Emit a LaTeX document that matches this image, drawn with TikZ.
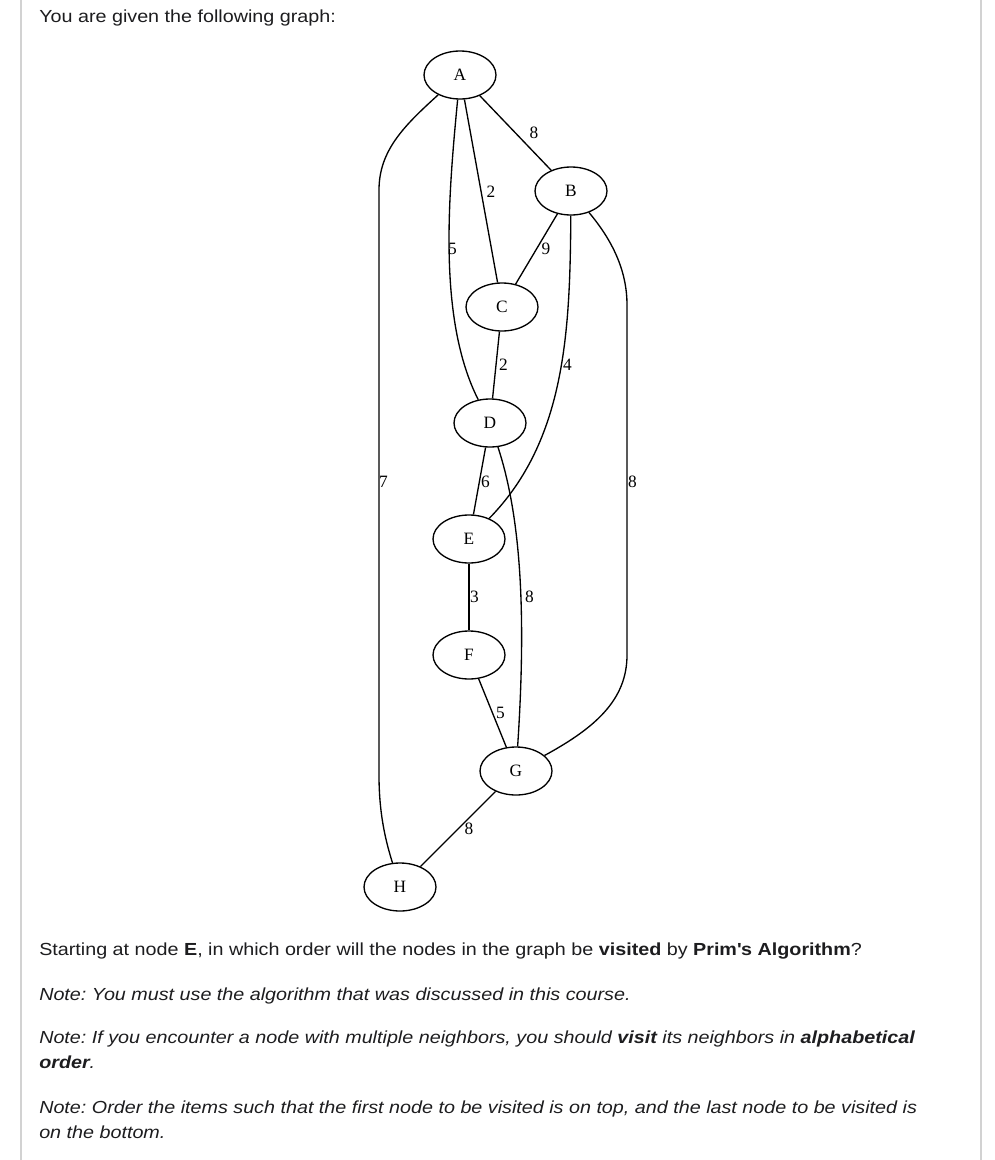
\documentclass[tikz,border=0pt]{standalone}
\usepackage{fontspec}
\setmainfont{Liberation Sans}[FakeStretch=1.13]
\newfontfamily\graphfont{Liberation Serif}
\usetikzlibrary{shapes.geometric}
\frenchspacing
\definecolor{txt}{HTML}{1D1D1F}
\definecolor{frame}{HTML}{D2D2D2}
\tikzset{
  gnode/.style={draw, ellipse, line width=1pt, minimum width=54pt, minimum height=36pt, inner sep=0pt, font=\graphfont\fontsize{13pt}{15pt}\selectfont},
  elabel/.style={inner sep=0pt, font=\graphfont\fontsize{13pt}{15pt}\selectfont},
  gedge/.style={line width=1pt},
  para/.style={anchor=base west, inner sep=0pt, text=txt, font=\frenchspacing\fontsize{13.1pt}{15pt}\selectfont},
  side/.style={draw=frame, line width=1.5pt}
}
\begin{document}
\begin{tikzpicture}[x=0.75pt,y=-0.75pt]
\useasboundingbox (0,0) rectangle (995,1160);
\fill[white] (0,0) rectangle (995,1160);
\coordinate (fl1) at (20.5,0); \coordinate (fl2) at (20.5,1160);
\coordinate (fr1) at (981,0); \coordinate (fr2) at (981,1160);
\draw[side] (fl1) -- (fl2);
\draw[side] (fr1) -- (fr2);

\node[para] (t0) at (39,22) {You are given the following graph:};

% nodes
\node[gnode] (A) at (460,75) {A};
\node[gnode] (B) at (571,191) {B};
\node[gnode] (C) at (502,307) {C};
\node[gnode] (D) at (490,423) {D};
\node[gnode] (E) at (469,539) {E};
\node[gnode] (F) at (469,655) {F};
\node[gnode] (G) at (516,771) {G};
\node[gnode] (H) at (400,887) {H};

% edges
\draw[gedge] (A) .. controls (405,125) and (379,150) .. (379,190) -- (379,775) .. controls (379,815) and (386,842) .. (H);
\draw[gedge] (A) .. controls (448,200) and (438,320) .. (D);
\draw[gedge] (A) -- (C);
\draw[gedge] (A) -- (B);
\draw[gedge] (B) -- (C);
\draw[gedge] (B) .. controls (570,330) and (566,440) .. (E);
\draw[gedge] (B) .. controls (612,240) and (627,270) .. (627,305) -- (627,655) .. controls (627,700) and (595,728) .. (G);
\draw[gedge] (C) -- (D);
\draw[gedge] (D) -- (E);
\draw[gedge] (D) .. controls (522,520) and (526,620) .. (G);
\draw[gedge] (E) -- (F);
\draw[gedge] (F) -- (G);
\draw[gedge] (G) -- (H);

% edge labels
\node[elabel] (l1) at (383.5,482) {7};
\node[elabel] (l2) at (452.5,249) {5};
\node[elabel] (l3) at (491,192) {2};
\node[elabel] (l4) at (534,133) {8};
\node[elabel] (l5) at (546,249) {9};
\node[elabel] (l6) at (567.5,365) {4};
\node[elabel] (l7) at (632.5,482) {8};
\node[elabel] (l8) at (503.5,365) {2};
\node[elabel] (l9) at (485.5,482) {6};
\node[elabel] (l10) at (529.5,597) {8};
\node[elabel] (l11) at (474.5,597) {3};
\node[elabel] (l12) at (500.5,713) {5};
\node[elabel] (l13) at (469,829) {8};

% bottom text
\node[para] (p1) at (39,955) {Starting at node \textbf{E}, in which order will the nodes in the graph be \textbf{visited} by \textbf{Prim\textquotesingle s Algorithm}?};
\node[para] (p2) at (39,1000) {\itshape Note: You must use the algorithm that was discussed in this course.};
\node[para] (p3) at (39,1043) {\itshape Note: If you encounter a node with multiple neighbors, you should \textbf{visit} its neighbors in \textbf{alphabetical}};
\node[para] (p4) at (39,1068) {\itshape\textbf{order}.};
\node[para] (p5) at (39,1113) {\itshape Note: Order the items such that the first node to be visited is on top, and the last node to be visited is};
\node[para] (p6) at (39,1138) {\itshape on the bottom.};
\end{tikzpicture}
\end{document}
